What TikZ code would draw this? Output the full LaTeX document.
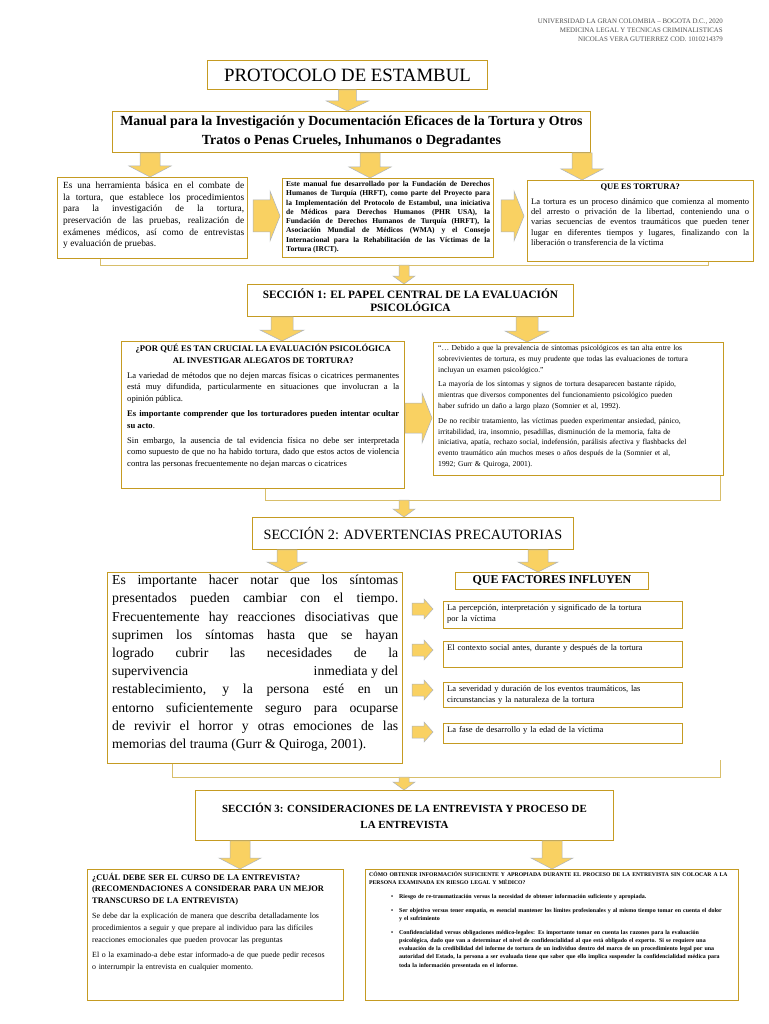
\documentclass[tikz,border=0pt]{standalone}
\usepackage{fontspec}
\setmainfont{Liberation Serif}
\usetikzlibrary{calc}
\definecolor{gold}{HTML}{C59B22}
\definecolor{arrfill}{HTML}{F9D162}
\definecolor{arredge}{HTML}{AEB4BC}
\definecolor{connc}{HTML}{D8BE6A}
\definecolor{hdrc}{HTML}{505050}
\hyphenpenalty=10000
\exhyphenpenalty=10000
\tolerance=9999
\hbadness=10000
\hfuzz=20pt
\newcommand{\fz}[2]{\fontsize{#1}{#2}\selectfont}
% block arrow: from, to, shaft half width, head half width, head length
\newcommand{\blockarrow}[5]{%
  \coordinate (bah) at ($(#2)!#5!(#1)$);
  \draw[arrsty] ($(#1)!#3!90:(#2)$) -- ($(bah)!#3!90:(#2)$) -- ($(bah)!#4!90:(#2)$) -- (#2)
     -- ($(bah)!#4!-90:(#2)$) -- ($(bah)!#3!-90:(#2)$) -- ($(#1)!#3!-90:(#2)$) -- cycle;}
\newcommand{\bul}[1]{{\leftskip=30pt\noindent\llap{•\hspace{6pt}}#1\par}}
\tikzset{
  box/.style={draw=gold, line width=0.9pt, fill=white, inner sep=0pt, anchor=north west},
  title/.style={box, align=center},
  txt/.style={inner sep=0pt, anchor=north west, align=justify},
  rtxt/.style={inner sep=0pt, anchor=north west, align=left},
  conn/.style={draw=connc, line width=0.7pt},
  arrsty/.style={fill=arrfill, draw=arredge, line width=0.5pt, line join=miter},
}
\begin{document}
\begin{tikzpicture}[x=1pt,y=-1pt]
\useasboundingbox (0,0) rectangle (768,1024);
\fill[white] (0,0) rectangle (768,1024);

% header
\node[inner sep=0pt, anchor=north east, align=right, text=hdrc, font=\fz{6.9}{9}] (hdr) at (723,19)
  {UNIVERSIDAD LA GRAN COLOMBIA – BOGOTA D.C., 2020\\MEDICINA LEGAL Y TECNICAS CRIMINALISTICAS\\NICOLAS VERA GUTIERREZ COD. 1010214379};

% titles
\node[title, minimum width=280pt, minimum height=29pt, font=\fz{18.8}{20}] (p) at (207,60) {PROTOCOLO DE ESTAMBUL};
\node[title, minimum width=478pt, minimum height=41pt, font=\fz{13.9}{19}\bfseries] (m) at (112,111)
  {Manual para la Investigación y Documentación Eficaces de la Tortura y Otros\\Tratos o Penas Crueles, Inhumanos o Degradantes};

% row 1
\node[box, minimum width=190pt, minimum height=81pt] (a) at (57,177) {};
\node[box, minimum width=211pt, minimum height=79pt] (b) at (282,178) {};
\node[box, minimum width=226pt, minimum height=81pt] (c) at (527,180) {};
\node[txt, text width=181pt, font=\fz{9.4}{11.6}] (at) at ([shift={(6,5)}]a.north west)
  {Es una herramienta básica en el combate de\linebreak la tortura, que establece los procedimientos\linebreak para la investigación de la tortura,\linebreak preservación de las pruebas, realización de\linebreak exámenes médicos, así como de entrevistas\linebreak y evaluación de pruebas.};
\node[txt, text width=204pt, font=\fz{7.5}{9.3}\bfseries] (bt) at ([shift={(4,3)}]b.north west)
  {Este manual fue desarrollado por la Fundación de Derechos\linebreak Humanos de Turquía (HRFT), como parte del Proyecto para\linebreak la Implementación del Protocolo de Estambul, una iniciativa\linebreak de Médicos para Derechos Humanos (PHR USA), la\linebreak Fundación de Derechos Humanos de Turquía (HRFT), la\linebreak Asociación Mundial de Médicos (WMA) y el Consejo\linebreak Internacional para la Rehabilitación de las Víctimas de la\linebreak Tortura (IRCT).};
\node[txt, text width=218pt, font=\fz{8.5}{10.3}] (ct) at ([shift={(4,4)}]c.north west)
  {\centerline{\bfseries QUE ES TORTURA?}\vskip4pt
   La tortura es un proceso dinámico que comienza al momento\linebreak del arresto o privación de la libertad, conteniendo una o\linebreak varias secuencias de eventos traumáticos que pueden tener\linebreak lugar en diferentes tiempos y lugares, finalizando con la\linebreak liberación o transferencia de la víctima};

% section 1
\node[title, minimum width=326pt, minimum height=32pt, font=\fz{11.3}{13}\bfseries] (s1) at (247,284)
  {SECCIÓN 1: EL PAPEL CENTRAL DE LA EVALUACIÓN\\PSICOLÓGICA};
\node[box, minimum width=283pt, minimum height=147pt] (l1) at (121,341) {};
\node[box, minimum width=290pt, minimum height=133pt] (r1) at (433,342) {};
\node[txt, text width=272pt, font=\fz{8.6}{11.8}] (l1t) at ([shift={(6,3)}]l1.north west)
  {{\centering\bfseries ¿POR QUÉ ES TAN CRUCIAL LA EVALUACIÓN PSICOLÓGICA\\AL INVESTIGAR ALEGATOS DE TORTURA?\par}\vskip3pt
   La variedad de métodos que no dejen marcas físicas o cicatrices permanentes\linebreak está muy difundida, particularmente en situaciones que involucran a la\linebreak opinión pública.\par\vskip3pt
   {\bfseries Es importante comprender que los torturadores pueden intentar ocultar\linebreak su acto}.\par\vskip3pt
   Sin embargo, la ausencia de tal evidencia física no debe ser interpretada\linebreak como supuesto de que no ha habido tortura, dado que estos actos de violencia\linebreak contra las personas frecuentemente no dejan marcas o cicatrices};
\node[rtxt, text width=283pt, font=\fz{7.6}{10.8}] (r1t) at ([shift={(5,3)}]r1.north west)
  {“… Debido a que la prevalencia de síntomas psicológicos es tan alta entre los\\sobrevivientes de tortura, es muy prudente que todas las evaluaciones de tortura\\incluyan un examen psicológico.”\par\vskip4pt
   La mayoría de los síntomas y signos de tortura desaparecen bastante rápido,\\mientras que diversos componentes del funcionamiento psicológico pueden\\haber sufrido un daño a largo plazo (Somnier et al, 1992).\par\vskip4pt
   De no recibir tratamiento, las víctimas pueden experimentar ansiedad, pánico,\\irritabilidad, ira, insomnio, pesadillas, disminución de la memoria, falta de\\iniciativa, apatía, rechazo social, indefensión, parálisis afectiva y flashbacks del\\evento traumático aún muchos meses o años después de la (Somnier et al,\\1992; Gurr \& Quiroga, 2001).};

% section 2
\node[title, minimum width=321pt, minimum height=32pt, font=\fz{14.2}{15}] (s2) at (252,517)
  {SECCIÓN 2: ADVERTENCIAS PRECAUTORIAS};
\node[box, minimum width=295pt, minimum height=191pt] (l2) at (107,572) {};
\node[txt, text width=286pt, font=\fz{13.7}{18.2}] (l2t) at ([shift={(5,3)}]l2.north west)
  {Es importante hacer notar que los síntomas\linebreak presentados pueden cambiar con el tiempo.\linebreak Frecuentemente hay reacciones disociativas que\linebreak suprimen los síntomas hasta que se hayan\linebreak logrado cubrir las necesidades de la\linebreak supervivencia\hfill inmediata y del\linebreak restablecimiento, y la persona esté en un\linebreak entorno suficientemente seguro para ocuparse\linebreak de revivir el horror y otras emociones de las\linebreak memorias del trauma (Gurr \& Quiroga, 2001).};
\node[title, minimum width=193pt, minimum height=17pt, font=\fz{12}{13}\bfseries] (qf) at (455,572) {QUE FACTORES INFLUYEN};
\node[box, minimum width=239pt, minimum height=27pt] (f1) at (443,601) {};
\node[box, minimum width=239pt, minimum height=26pt] (f2) at (443,641) {};
\node[box, minimum width=239pt, minimum height=25pt] (f3) at (443,682) {};
\node[box, minimum width=239pt, minimum height=20pt] (f4) at (443,723) {};
\node[rtxt, text width=232pt, font=\fz{8.5}{11}] (f1t) at ([shift={(4,3)}]f1.north west) {La percepción, interpretación y significado de la tortura\\por la víctima};
\node[rtxt, text width=232pt, font=\fz{8.5}{11}] (f2t) at ([shift={(4,3)}]f2.north west) {El contexto social antes, durante y después de la tortura};
\node[rtxt, text width=232pt, font=\fz{8.5}{11}] (f3t) at ([shift={(4,3)}]f3.north west) {La severidad y duración de los eventos traumáticos, las\\circunstancias y la naturaleza de la tortura};
\node[rtxt, text width=232pt, font=\fz{8.5}{11}] (f4t) at ([shift={(4,3)}]f4.north west) {La fase de desarrollo y la edad de la víctima};

% section 3
\node[title, minimum width=418pt, minimum height=50pt, font=\fz{10.9}{16}\bfseries] (s3) at (195,790)
  {SECCIÓN 3: CONSIDERACIONES DE LA ENTREVISTA Y PROCESO DE\\LA ENTREVISTA};
\node[box, minimum width=256pt, minimum height=131pt] (l3) at (87,869) {};
\node[box, minimum width=373pt, minimum height=131pt] (r3) at (365,869) {};
\node[rtxt, text width=248pt, font=\fz{7.9}{12}] (l3t) at ([shift={(5,4)}]l3.north west)
  {{\fz{8.4}{11.5}\bfseries ¿CUÁL DEBE SER EL CURSO DE LA ENTREVISTA?\\(RECOMENDACIONES A CONSIDERAR PARA UN MEJOR\\TRANSCURSO DE LA ENTREVISTA)\par}\vskip3pt
   Se debe dar la explicación de manera que describa detalladamente los\\procedimientos a seguir y que prepare al individuo para las difíciles\\reacciones emocionales que pueden provocar las preguntas\par\vskip3pt
   El o la examinado-a debe estar informado-a de que puede pedir recesos\\o interrumpir la entrevista en cualquier momento.};
\node[rtxt, text width=368pt, font=\fz{5.95}{8.1}\bfseries] (r3t) at ([shift={(4,2)}]r3.north west)
  {{\fz{5.7}{8.1}\bfseries CÓMO OBTENER INFORMACIÓN SUFICIENTE Y APROPIADA DURANTE EL PROCESO DE LA ENTREVISTA SIN COLOCAR A LA\\PERSONA EXAMINADA EN RIESGO LEGAL Y MÉDICO?\par}\vskip6pt
   \bul{Riesgo de re-traumatización versus la necesidad de obtener información suficiente y apropiada.}\vskip6pt
   \bul{Ser objetivo versus tener empatía, es esencial mantener los límites profesionales y al mismo tiempo tomar en cuenta el dolor\\y el sufrimiento}\vskip6pt
   \bul{Confidencialidad versus obligaciones médico-legales: Es importante tomar en cuenta las razones para la evaluación\\psicológica, dado que van a determinar el nivel de confidencialidad al que está obligado el experto. Si se requiere una\\evaluación de la credibilidad del informe de tortura de un individuo dentro del marco de un procedimiento legal por una\\autoridad del Estado, la persona a ser evaluada tiene que saber que ello implica suspender la confidencialidad médica para\\toda la información presentada en el informe.}};

% ---------- connectors ----------
% title -> manual
\coordinate (pm) at (p.south |- m.north);
\blockarrow{p.south}{pm}{9pt}{21pt}{10pt}
% manual -> row 1
\coordinate (ma1) at (m.south -| 150,0); \coordinate (ain) at (a.north -| 150,0);
\coordinate (ma2) at (m.south -| 370,0); \coordinate (bin) at (b.north -| 370,0);
\coordinate (ma3) at (m.south -| 582,0); \coordinate (cin) at (c.north -| 582,0);
\blockarrow{ma1}{ain}{10pt}{21pt}{11pt}
\blockarrow{ma2}{bin}{10pt}{21pt}{11pt}
\blockarrow{ma3}{cin}{10pt}{21pt}{11pt}
% row 1 side arrows
\coordinate (ab1) at (253,216); \coordinate (ab2) at (280,216);
\coordinate (bc1) at (501,216); \coordinate (bc2) at (524,216);
\blockarrow{ab1}{ab2}{16pt}{25pt}{10pt}
\blockarrow{bc1}{bc2}{16pt}{25pt}{10pt}
% row 1 -> section 1
\coordinate (k1) at (a.south -| 100,0);
\coordinate (k2) at (c.south -| 708,0);
\coordinate (kk) at (404,265);
\draw[conn] (k1) -- (k1 |- kk) -- (k2 |- kk) -- (k2);
\coordinate (ks1) at (kk |- s1.north);
\blockarrow{kk}{ks1}{5pt}{11pt}{8pt}
% section 1 -> boxes
\coordinate (s1a) at (s1.south -| 282,0); \coordinate (l1in) at (l1.north -| 282,0);
\coordinate (s1b) at (s1.south -| 527,0); \coordinate (r1in) at (r1.north -| 527,0);
\blockarrow{s1a}{l1in}{11pt}{22pt}{11pt}
\blockarrow{s1b}{r1in}{11pt}{22pt}{11pt}
\coordinate (lr1) at (405,418); \coordinate (lr2) at (432,418);
\blockarrow{lr1}{lr2}{15pt}{25pt}{10pt}
% section 1 -> section 2
\coordinate (q1) at (l1.south -| 265,0);
\coordinate (q2) at (r1.south -| 720,0);
\coordinate (qq) at (404,500);
\draw[conn] (q1) -- (q1 |- qq) -- (q2 |- qq) -- (q2);
\coordinate (qs2) at (qq |- s2.north);
\blockarrow{qq}{qs2}{5pt}{11pt}{8pt}
% section 2 -> boxes
\coordinate (s2a) at (s2.south -| 287,0); \coordinate (l2in) at (l2.north -| 287,0);
\coordinate (s2b) at (s2.south -| 538,0); \coordinate (qfin) at (qf.north -| 538,0);
\blockarrow{s2a}{l2in}{10pt}{20pt}{10pt}
\blockarrow{s2b}{qfin}{10pt}{20pt}{10pt}
% factor arrows
\foreach \i/\yy in {1/609,2/650,3/690,4/732}{
  \coordinate (fa\i) at (412,\yy); \coordinate (fb\i) at (433,\yy);
  \blockarrow{fa\i}{fb\i}{6pt}{10pt}{9pt}
}
% section 2 -> section 3
\coordinate (w1) at (l2.south -| 172,0);
\coordinate (w2) at (720,760);
\coordinate (ww) at (404,777);
\draw[conn] (w1) -- (w1 |- ww) -- (w2 |- ww) -- (w2);
\coordinate (ws3) at (ww |- s3.north);
\blockarrow{ww}{ws3}{5pt}{11pt}{8pt}
% section 3 -> boxes
\coordinate (s3a) at (s3.south -| 240,0); \coordinate (l3in) at (l3.north -| 240,0);
\coordinate (s3b) at (s3.south -| 552,0); \coordinate (r3in) at (r3.north -| 552,0);
\blockarrow{s3a}{l3in}{10pt}{21pt}{11pt}
\blockarrow{s3b}{r3in}{10pt}{21pt}{11pt}
\end{tikzpicture}
\end{document}
